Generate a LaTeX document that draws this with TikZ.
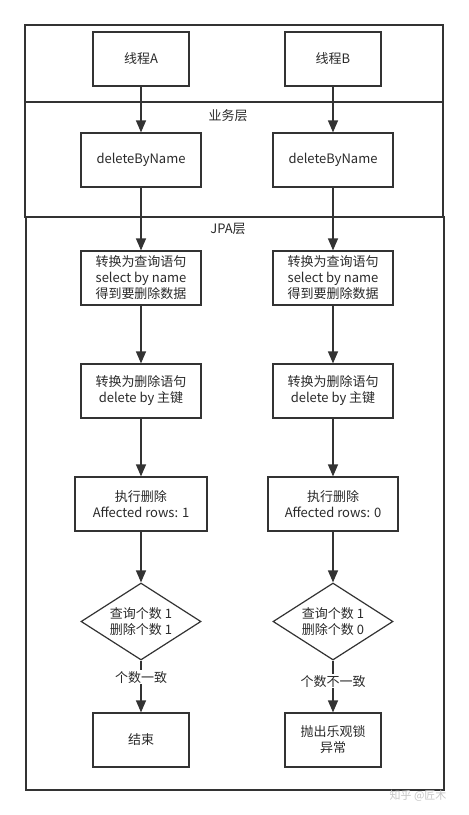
\documentclass[tikz,border=0pt]{standalone}
\usepackage{fontspec}
\setmainfont{Noto Sans CJK SC}
\usetikzlibrary{shapes.geometric,arrows.meta}
\definecolor{ln}{HTML}{333333}
\definecolor{tx}{HTML}{2A2A2A}
\tikzset{
  box/.style={draw=ln, line width=1.2pt, rectangle, align=center, inner sep=0pt,
    minimum width=120pt, minimum height=54pt, text=tx, font=\fontsize{13}{16}\selectfont},
  dec/.style={draw=ln, line width=1.2pt, diamond, aspect=1.56, align=center, inner sep=0pt,
    minimum width=120pt, minimum height=77pt, text=tx, font=\fontsize{13}{16}\selectfont},
  frame/.style={draw=ln, line width=1.3pt},
  lbl/.style={text=tx, font=\fontsize{13}{16}\selectfont, inner sep=1pt},
  arr/.style={draw=ln, line width=1.2pt, -{Triangle[width=10pt,length=12pt]}},
  elbl/.style={fill=white, text=tx, font=\fontsize{13}{16}\selectfont, inner sep=1pt}
}
\begin{document}
\begin{tikzpicture}[x=1pt,y=-1pt]
\useasboundingbox (0,0) rectangle (469,815);
\fill[white] (0,0) rectangle (469,815);
% frames
\draw[frame] (25,25) rectangle (443,102);
\draw[frame] (25,102) rectangle (443,217);
\draw[frame] (26,217) rectangle (444,790);
\node[lbl] (lbiz) at (228,116) {业务层};
\node[lbl] (ljpa) at (228,229) {JPA层};
% column A
\node[box, minimum width=96pt] (tA) at (141,59) {线程A};
\node[box] (dA) at (141,160) {deleteByName};
\node[box] (qA) at (141,278) {转换为查询语句\\select by name\\得到要删除数据};
\node[box] (rA) at (141,391) {转换为删除语句\\delete by 主键};
\node[box, minimum width=132pt] (eA) at (141,504) {执行删除\\Affected rows: 1};
\node[dec] (cA) at (141,621.5) {查询个数 1\\删除个数 1};
\node[box, minimum width=96pt] (fA) at (141,740) {结束};
% column B
\node[box, minimum width=96pt] (tB) at (333,59) {线程B};
\node[box] (dB) at (333,160) {deleteByName};
\node[box] (qB) at (333,278) {转换为查询语句\\select by name\\得到要删除数据};
\node[box] (rB) at (333,391) {转换为删除语句\\delete by 主键};
\node[box, minimum width=130pt] (eB) at (333,504) {执行删除\\Affected rows: 0};
\node[dec] (cB) at (333,621.5) {查询个数 1\\删除个数 0};
\node[box, minimum width=96pt] (fB) at (333,740) {抛出乐观锁\\异常};
% arrows
\foreach \c in {A,B}{
  \draw[arr] (t\c) -- (d\c);
  \draw[arr] (d\c) -- (q\c);
  \draw[arr] (q\c) -- (r\c);
  \draw[arr] (r\c) -- (e\c);
  \draw[arr] (e\c) -- (c\c);
}
\draw[arr] (cA) -- node[elbl, pos=0.32] {个数一致} (fA);
\draw[arr] (cB) -- node[elbl, pos=0.4] {个数不一致} (fB);
% watermark
\node[text=black!22, font=\fontsize{11}{13}\selectfont, inner sep=0pt] (wm) at (418,796) {知乎 @匠木};
\end{tikzpicture}
\end{document}
